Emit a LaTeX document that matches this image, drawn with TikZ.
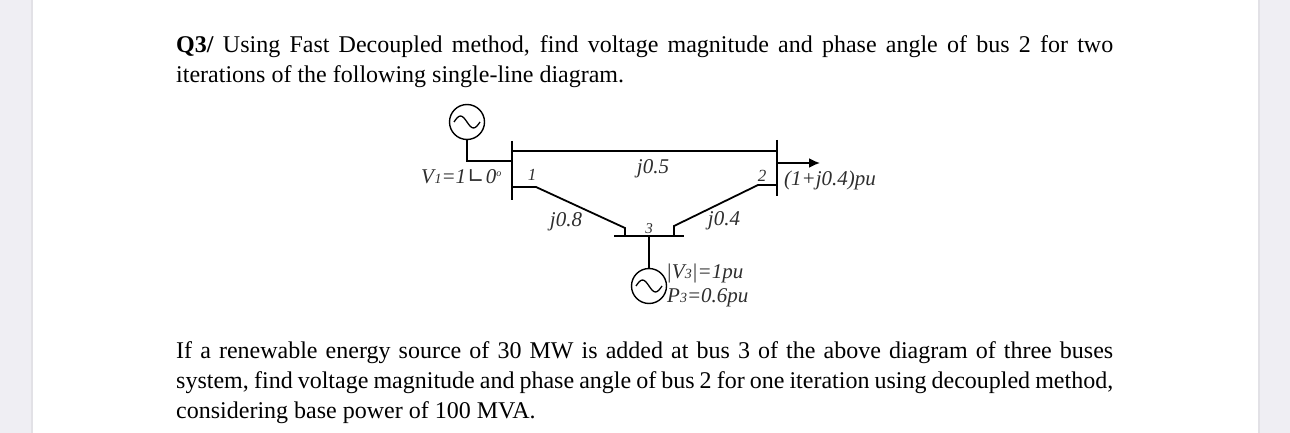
\documentclass[tikz,border=0pt]{standalone}
\usetikzlibrary{arrows.meta}
\usepackage{fontspec}
\setmainfont{Liberation Serif}
\newfontfamily\symfont{DejaVu Sans}
\definecolor{panelgray}{HTML}{EFEEF3}
\definecolor{paneledge}{HTML}{E2E1E6}
\definecolor{labelgray}{HTML}{2E2E2E}
\tikzset{
    busline/.style={line width=2.2pt},
    wire/.style={line width=1.8pt},
    gen/.style={draw, circle, line width=1.4pt, minimum size=35pt, inner sep=0pt},
    para/.style={anchor=north west, inner sep=0pt, text width=937pt, align=justify, font=\fontsize{24}{30}\selectfont},
    lbl/.style={inner sep=0pt, text=labelgray, font=\fontsize{21}{24}\selectfont\itshape},
    tiny lbl/.style={inner sep=0pt, text=labelgray, font=\fontsize{17}{18}\selectfont\itshape}
}
\newcommand{\wave}[1]{\draw[line width=1.3pt] (#1) ++(-13,0) sin ++(6.5,-6) cos ++(6.5,6) sin ++(6.5,6) cos ++(6.5,-6);}
\begin{document}
\begin{tikzpicture}[x=1pt, y=-1pt]
    \useasboundingbox (0,0) rectangle (1290,433);
    \fill[panelgray] (0,0) rectangle (32,433);
    \fill[panelgray] (1259,0) rectangle (1290,433);
    \fill[paneledge] (31,0) rectangle (33,433);
    \fill[paneledge] (1258,0) rectangle (1260,433);

    % Text
    \node[para] (top) at (176,35) {\textbf{Q3/} Using Fast Decoupled method, find voltage magnitude and phase angle of bus 2 for two\linebreak iterations of the following single-line diagram.};
    \node[para] (bottom) at (176,341) {If a renewable energy source of 30 MW is added at bus 3 of the above diagram of three buses\linebreak system, find voltage magnitude and phase angle of bus 2 for one iteration using decoupled method,\linebreak considering base power of 100 MVA.};

    % Generators
    \node[gen] (g1) at (467,122) {};
    \node[gen] (g3) at (649,286) {};
    \wave{g1}
    \wave{g3}

    % Bus ends and corners
    \coordinate (b1t) at (512,141);
    \coordinate (b1b) at (512,200);
    \coordinate (b2t) at (777,140);
    \coordinate (b2b) at (777,196);
    \coordinate (b3l) at (614,236);
    \coordinate (b3r) at (684,236);
    \coordinate (g1c) at (467,161);
    \coordinate (g1b) at (512,161);
    \coordinate (t1) at (512,151);
    \coordinate (t2) at (777,151);
    \coordinate (load) at (777,163);
    \coordinate (loadend) at (820,163);
    \coordinate (l1a) at (512,187);
    \coordinate (l1b) at (536,187);
    \coordinate (l1c) at (625,228);
    \coordinate (l1d) at (625,236);
    \coordinate (l2a) at (777,185);
    \coordinate (l2b) at (758,185);
    \coordinate (l2c) at (674,226);
    \coordinate (l2d) at (674,236);
    \coordinate (b3m) at (649,236);

    % Buses
    \draw[busline] (b1t) -- (b1b);
    \draw[busline] (b2t) -- (b2b);
    \draw[busline] (b3l) -- (b3r);

    % Lines
    \draw[wire] (g1) -- (g1c) -- (g1b);
    \draw[wire] (t1) -- (t2);
    \draw[wire] (l1a) -- (l1b) -- (l1c) -- (l1d);
    \draw[wire] (l2a) -- (l2b) -- (l2c) -- (l2d);
    \draw[wire] (b3m) -- (g3);
    \draw[wire, -{Latex[length=11pt,width=10pt]}] (load) -- (loadend);

    % Labels
    \node[lbl, anchor=base west] (v1) at (421,183) {V\kern0.5pt{\fontsize{14}{14}\selectfont 1}=1\kern1pt{\upshape\symfont ∟}\kern1pt 0\raisebox{7pt}{\fontsize{10}{10}\selectfont o}};
    \node[tiny lbl, anchor=base] (n1) at (532,180) {1};
    \node[tiny lbl, anchor=base] (n2) at (762,181) {2};
    \node[tiny lbl, font=\fontsize{15}{15}\selectfont\itshape, anchor=base] (n3) at (649,233) {3};
    \node[lbl, anchor=base] (x12) at (653,173) {j0.5};
    \node[lbl, anchor=base] (x13) at (566,226) {j0.8};
    \node[lbl, anchor=base] (x23) at (724,225) {j0.4};
    \node[lbl, anchor=base west] (sl) at (784,185) {(1+j0.4)pu};
    \node[lbl, anchor=base west] (v3) at (666,278) {|V{\fontsize{14}{14}\selectfont 3}|=1pu};
    \node[lbl, anchor=base west] (p3) at (667,302) {P{\fontsize{14}{14}\selectfont 3}=0.6pu};
\end{tikzpicture}
\end{document}
